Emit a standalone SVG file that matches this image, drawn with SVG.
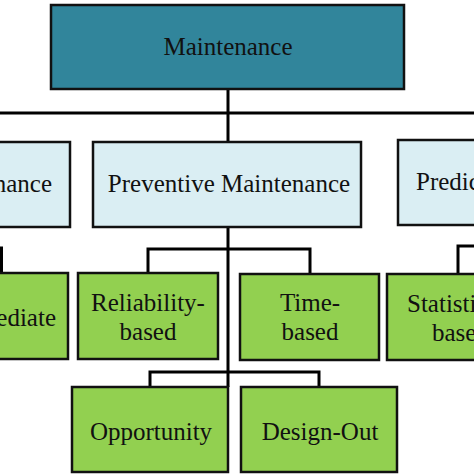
<svg xmlns="http://www.w3.org/2000/svg" width="474" height="474" viewBox="0 0 474 474">
<style>
.box{stroke:#111;stroke-width:2.5}
.root{fill:#31859B}
.mid{fill:#DAEEF3}
.leaf{fill:#92D050}
.c{fill:none;stroke:#000;stroke-width:3}
text{font-family:"Liberation Serif","Times New Roman",serif;font-size:25px;fill:#111}
</style>
<rect width="474" height="474" fill="#fff"/>
<g id="connectors">
<path class="c" d="M228 89V142M-10 113H484"/>
<path class="c" d="M228 227V387M148 273V249H310V273"/>
<path class="c" d="M150 387V372H319V387"/>
<path class="c" d="M1.5 273V248H-10"/>
<path class="c" d="M458 273V246H484"/>
</g>
<g id="maintenance">
<rect class="box root" x="51" y="5" width="353" height="84"/>
<text x="228" y="55" text-anchor="middle">Maintenance</text>
</g>
<g id="corrective">
<rect class="box mid" x="-200" y="142" width="270" height="85"/>
<text x="52" y="192" text-anchor="end">nance</text>
</g>
<g id="preventive">
<rect class="box mid" x="93" y="142" width="268" height="85"/>
<text x="229" y="192" text-anchor="middle">Preventive Maintenance</text>
</g>
<g id="predictive">
<rect class="box mid" x="398" y="140" width="270" height="85"/>
<text x="416" y="190">Predic</text>
</g>
<g id="immediate">
<rect class="box leaf" x="-80" y="273" width="148" height="86"/>
<text x="56" y="326" text-anchor="end">ediate</text>
</g>
<g id="reliability">
<rect class="box leaf" x="78" y="273" width="140" height="86"/>
<text x="148" y="311" text-anchor="middle">Reliability-</text>
<text x="148" y="340" text-anchor="middle">based</text>
</g>
<g id="time">
<rect class="box leaf" x="240" y="274" width="139" height="86"/>
<text x="310" y="311" text-anchor="middle">Time-</text>
<text x="310" y="340" text-anchor="middle">based</text>
</g>
<g id="statistical">
<rect class="box leaf" x="387" y="274" width="140" height="86"/>
<text x="407" y="312">Statisti</text>
<text x="432" y="341">base</text>
</g>
<g id="opportunity">
<rect class="box leaf" x="72" y="387" width="156" height="85"/>
<text x="151" y="440" text-anchor="middle">Opportunity</text>
</g>
<g id="designout">
<rect class="box leaf" x="241" y="387" width="156" height="85"/>
<text x="320" y="440" text-anchor="middle">Design-Out</text>
</g>
</svg>
